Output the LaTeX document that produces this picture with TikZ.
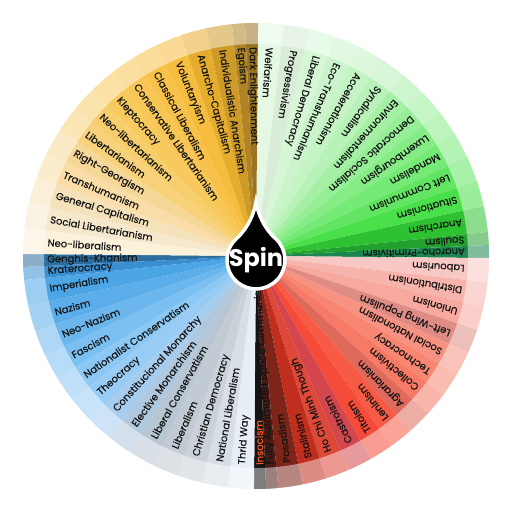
\documentclass[tikz,border=0pt]{standalone}
\usepackage{fontspec}
\setmainfont{Poppins}
\newfontfamily\wheelfont{Poppins}[FakeBold = 0.35]
\usepackage{tikz}
\pgfdeclarelayer{bg}
\pgfsetlayers{bg,main}
\definecolor{insoc}{HTML}{FF5722}

\begin{document}
\begin{tikzpicture}[x = 1pt, y = 1pt,
        slicelabel/.style = {font = {\wheelfont\fontsize{10}{12}\selectfont}, text = black!92, inner sep = 0pt, anchor = west},
        hub/.style = {fill = black, draw = white, line width = 3.5pt}]
        \useasboundingbox (0, 0) rectangle (512, 512);
        \coordinate (c) at (256, 256);
        \def\wang{89.5}
        \foreach \w/\col/\txt [count = \i] in {
                6.4286/E4F8E4/Welfarism, 6.4286/D8ECD8/Progressivism, 6.4286/D6F6D6/Liberal Democracy,
                6.4286/CCF4CC/Eco-Transhumanism, 6.4286/C4F4C4/Accelerationism, 6.4286/B8F2B8/Syndicalism,
                6.4286/A6F0A6/Environmentalism, 6.4286/96EE96/Democratic Socialism, 6.4286/86EC86/Luxembourgism,
                6.4286/76EA76/Mandelism, 6.4286/62E662/Left Communism, 6.4286/4AE04A/Situationism,
                6.4286/2EC232/Anarchism, 3.2143/22A22C/Soulism, 3.2143/1C8650/Anarcho-Primitivism,
                6/F8C8C4/Labourism, 6/F6B4AD/Distributionism, 6/F7A89F/Unionism,
                6/DE8C84/Left-Wing Populism, 6/F79282/Social Nationalism, 6/F78672/Technocracy,
                6/F67A66/Collectivism, 6/DE6A5C/Agrarianism, 6/F75A45/Leninism,
                6/F64B38/Titoism, 6/D4464E/Castroism, 6/DE4838/Ho Chi Minh Though,
                6/C22E1E/Stalinism, 6/7E2418/Posadism, 3/4A1A14/Fully Automated Space Communism,
                3/141414/{\textcolor{insoc}{Insocism}},
                6.4286/E8EEF6/Thrid Way, 6.4286/D8DEE6/National Liberalism, 6.4286/CAD1D9/Christian Democracy,
                6.4286/C2CAD3/Liberalism, 6.4286/B8C6D3/Liberal Conservatism, 6.4286/B0C8DE/Elective Monarchism,
                6.4286/A6CCEE/Constitucional Monarchy, 6.4286/98CCF4/Theocracy, 6.4286/8CC8F4/Nationalist Conservatism,
                6.4286/7CC0F2/Fascism, 6.4286/6CB6EE/Neo-Nazism, 6.4286/5CAEEA/Nazism,
                6.4286/4CA6E6/Imperialism, 3.2143/3A8FD2/Kraterocracy, 3.2143/2E6E9E/Genghis-Khanism,
                6.4286/FCF2DC/Neo-liberalism, 6.4286/F6E8CC/Social Libertarianism, 6.4286/F6E2BA/General Capitalism,
                6.4286/FADDA6/Transhumanism, 6.4286/F5D898/Right-Georgism, 6.4286/F8D27A/Libertarianism,
                6.4286/F7CE6C/Neo-libertarianism, 6.4286/F8CA5E/Kleptocracy, 6.4286/F7C655/Conservative Libertarianism,
                6.4286/F8C24A/Classical Liberalism, 6.4286/F6BC3E/Voluntaryism, 6.4286/E6AC2C/Anarcho-Capitalism,
                6.4286/CE9B28/Individualistic Anarchism, 3.2143/B08424/Egoism, 3.2143/9A7424/Dark Enlightenment} {
            \pgfmathsetmacro\wangb{\wang - \w}
            \pgfmathsetmacro\wangm{\wang - \w/2}
            \definecolor{slicecol}{HTML}{\col}
            \begin{pgfonlayer}{bg}
                \fill[slicecol] (c) -- ++(\wang:233) arc[start angle = \wang, end angle = \wangb, radius = 233] -- cycle;
            \end{pgfonlayer}
            \node[slicelabel, rotate = \wangm + 180] (l\i) at ([shift = {(\wangm:209)}] c) {\txt};
            \global\let\wang\wangb
        }
        \begin{pgfonlayer}{bg}
            \fill[white, opacity = 0.45, even odd rule] (c) circle[radius = 233] (c) circle[radius = 212];
        \end{pgfonlayer}

        \draw[hub] (256, 310) .. controls (257.5, 300) and (263.5, 284) .. (275.4, 273.6)
            arc[start angle = 48, end angle = -228, radius = 29]
            .. controls (248.5, 284) and (254.5, 300) .. cycle;
        \node[font = {\fontsize{24}{26}\selectfont\bfseries}, white] (spin) at (256, 252) {Spin};
    \end{tikzpicture}
\end{document}
